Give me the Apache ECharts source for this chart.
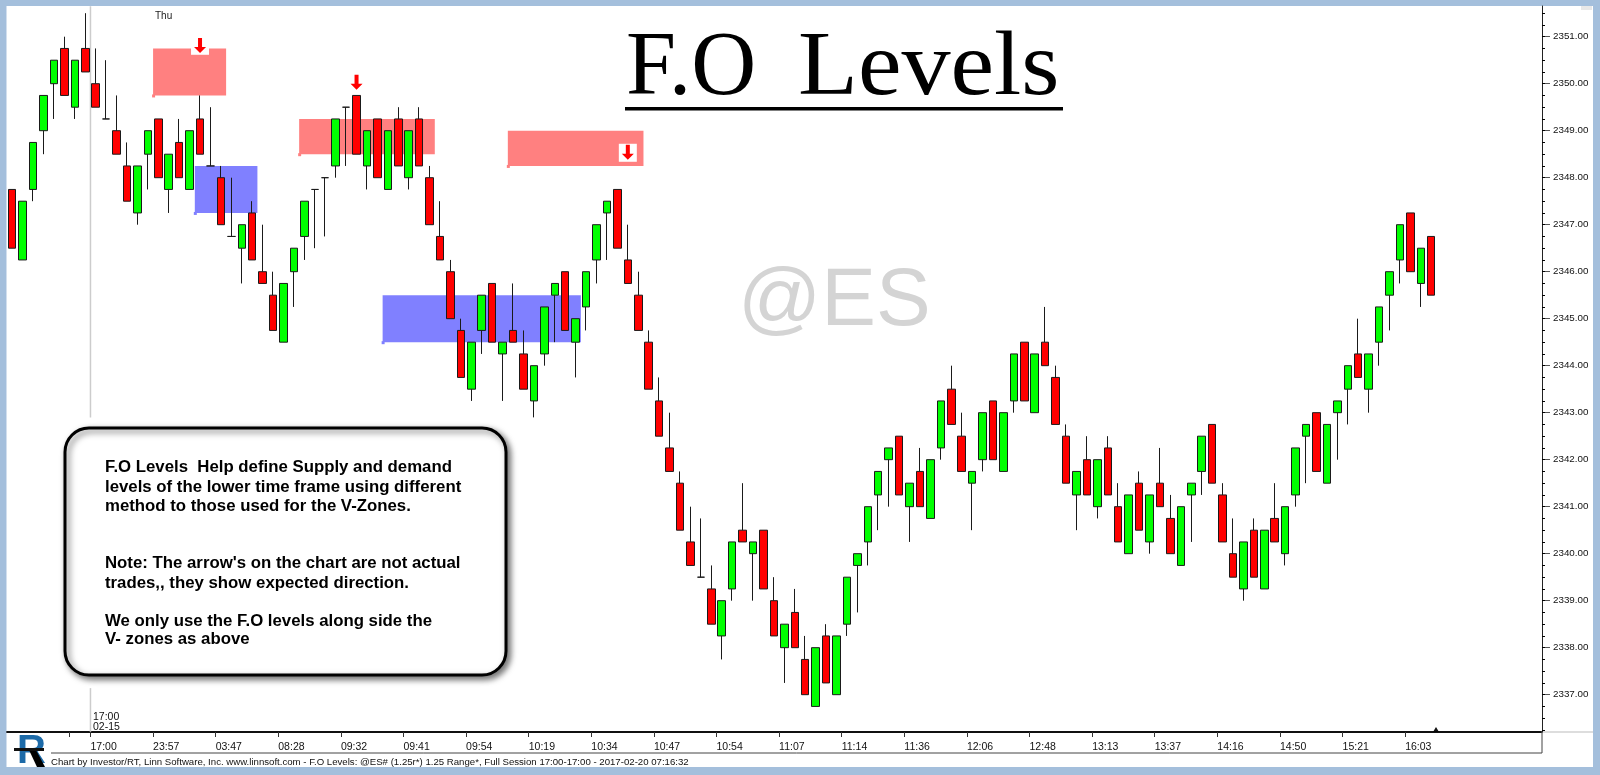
<!DOCTYPE html>
<html>
<head>
<meta charset="utf-8">
<title>F.O Levels</title>
<script src="https://cdn.jsdelivr.net/npm/echarts@6/dist/echarts.min.js"></script>
<style>
  html, body { margin: 0; padding: 0; background: #a4bfdc; }
  #chart { width: 1600px; height: 775px; }
</style>
</head>
<body>
<div id="chart"></div>
<script>
// 1.25 range bars (one row = 10 bars)
const opens = [
  2347.75,2346.25,2347.75,2349,2350,2350.75,2349.5,2350.75,2350,2349.25,
  2349,2348.25,2347.25,2348.5,2349.25,2347.75,2348.75,2347.75,2349.25,2348.25,
  2348,2346.75,2346.5,2347.25,2346,2345.5,2344.5,2346,2346.75,2347.75,
  2348,2348.25,2349.5,2349.75,2348.25,2349.25,2347.75,2349.25,2348,2349.25,
  2348,2346.75,2346,2344.75,2343.5,2344.75,2345.75,2344.25,2344.75,2344.25,
  2343.25,2344.25,2345.5,2346,2344.5,2345.25,2346.25,2347.25,2347.75,2346.25,
  2345.5,2344.5,2343.25,2342.25,2341.5,2340.25,2339.5,2339.25,2338.25,2339.25,
  2340.5,2340,2340.5,2339,2338,2338.75,2337.75,2336.75,2338.25,2337,
  2338.5,2339.75,2340.25,2341.25,2342,2342.5,2341,2341.75,2340.75,2342.25,
  2343.5,2342.5,2341.5,2342,2343.25,2341.75,2343.25,2344.5,2343,2344.5,
  2343.75,2342.5,2341.25,2342,2341,2342.25,2341,2340,2341.5,2340.25,
  2341.5,2340.75,2339.75,2341.25,2341.75,2342.75,2341.25,2340,2339.25,2340.5,
  2339.25,2340.75,2340,2341.25,2342.5,2343,2341.5,2343,2343.5,2344.25,
  2343.5,2344.5,2345.5,2346.25,2347.25,2345.75,2346.75
];
const closes = [
  2346.5,2347.5,2348.75,2349.75,2350.5,2349.75,2350.5,2350.25,2349.5,2349.25,
  2348.5,2347.5,2348.25,2349,2348,2348.5,2348,2349,2348.5,2348.25,
  2347,2346.75,2347,2346.25,2345.75,2344.75,2345.75,2346.5,2347.5,2347.75,
  2348,2349.25,2349.5,2348.5,2349,2348,2349,2348.25,2349,2348.25,
  2347,2346.25,2345,2343.75,2344.5,2345.5,2344.5,2344.5,2344.5,2343.5,
  2344,2345.25,2345.75,2344.75,2345,2346,2347,2347.5,2346.5,2345.75,
  2344.75,2343.5,2342.5,2341.75,2340.5,2339.75,2339.5,2338.5,2339,2340.25,
  2340.25,2340.25,2339.25,2338.25,2338.5,2338,2337,2338,2337.25,2338.25,
  2339.5,2340,2341,2341.75,2342.25,2341.25,2341.5,2341,2342,2343.25,
  2342.75,2341.75,2341.75,2343,2342,2343,2344.25,2343.25,2344.25,2344,
  2342.75,2341.5,2341.75,2341.25,2342,2341.25,2340.25,2341.25,2340.5,2341.25,
  2341,2340,2341,2341.5,2342.5,2341.5,2340.25,2339.5,2340.25,2339.5,
  2340.5,2340.25,2341,2342.25,2342.75,2341.75,2342.75,2343.25,2344,2343.75,
  2344.25,2345.25,2346,2347,2346,2346.5,2345.5
];
const lows = [
  2346.5,2346.25,2347.5,2348.5,2349.25,2349.75,2349.25,2350.25,2349.5,2349.25,
  2348.5,2347.5,2347,2347.75,2348,2347.25,2348,2347.75,2348.5,2348.25,
  2347,2346.75,2345.75,2346.25,2345.75,2344.75,2344.5,2345.25,2346.25,2346.5,
  2346.75,2348,2348.25,2348.5,2347.75,2348,2347.75,2348.25,2347.75,2348.25,
  2347,2346.25,2345,2343.75,2343.25,2344.25,2344.5,2343.25,2344.5,2343.5,
  2342.9,2344,2344.5,2344.75,2343.75,2344.75,2345.75,2346.25,2346.5,2345.75,
  2344.75,2343.5,2342.5,2341.75,2340.5,2339.75,2339.5,2338.5,2337.75,2339,
  2340.25,2339,2339.25,2338.25,2337.25,2338,2337,2336.75,2337.25,2337,
  2338.25,2338.75,2339.75,2340.5,2341,2341.25,2340.25,2341,2340.75,2342,
  2342.75,2341.75,2340.5,2341.75,2342,2341.75,2343,2343.25,2343,2344,
  2342.75,2341.5,2340.5,2341.25,2340.75,2341.25,2340.25,2340,2340.5,2340,
  2341,2340,2339.75,2340.25,2341.25,2341.5,2340.25,2339.5,2339,2339.5,
  2339.25,2340.25,2339.75,2341,2341.5,2341.75,2341.5,2342,2342.75,2343.75,
  2343,2344,2344.75,2345.75,2346,2345.25,2345.5
];
const highs = [
  2347.75,2347.5,2348.75,2349.75,2350.5,2351,2350.5,2351.5,2350.75,2350.5,
  2349.75,2348.75,2348.25,2349,2349.25,2348.5,2349.25,2349,2349.75,2349.5,
  2348.25,2348,2347,2347.5,2347,2346,2345.75,2346.5,2347.5,2347.75,
  2348,2349.25,2349.5,2349.75,2349,2349.25,2349,2349.5,2349,2349.5,
  2348.25,2347.5,2346.25,2345,2344.5,2345.5,2345.75,2344.5,2345.75,2344.75,
  2344,2345.25,2345.75,2346,2345,2346,2347,2347.5,2347.75,2347,
  2346,2344.75,2343.75,2343,2341.75,2341,2340.75,2339.75,2339,2340.25,
  2341.5,2340.25,2340.5,2339.5,2338.5,2339.25,2338.25,2338,2338.5,2338.25,
  2339.5,2340,2341,2341.75,2342.25,2342.5,2341.5,2342.25,2342,2343.25,
  2344,2343,2341.75,2343,2343.25,2343,2344.25,2344.5,2344.25,2345.25,
  2344,2342.75,2341.75,2342.5,2342,2342.5,2341.5,2341.25,2341.75,2341.25,
  2342.25,2341.25,2341,2341.5,2342.5,2342.75,2341.5,2340.75,2340.25,2340.75,
  2340.5,2341.5,2341,2342.25,2342.75,2343,2342.75,2343.25,2344,2345,
  2344.25,2345.25,2346,2347,2347.25,2346.5,2346.75
];

// time axis: one label every 6 bars, at the boundary before the bar
const timeLabels = ["17:00","23:57","03:47","08:28","09:32","09:41","09:54","10:19","10:34","10:47","10:54",
                    "11:07","11:14","11:36","12:06","12:48","13:13","13:37","14:16","14:50","15:21","16:03"];
const timeTicks = [8.5,14.5,20.5,26.5,32.5,38.5,44.5,50.5,56.5,62.5,68.5,
                   74.5,80.5,86.5,92.5,98.5,104.5,110.5,116.5,122.5,128.5,134.5];
const extraTicks = [6.5];
const priceLabels = [2337,2338,2339,2340,2341,2342,2343,2344,2345,2346,2347,2348,2349,2350,2351];

// F.O levels: [first bar edge, last bar edge, top price, bottom price]
const supplyZones = [[14.5,21.5,2350.75,2349.75],[28.5,41.5,2349.25,2348.5],[48.5,61.5,2349,2348.25]];
const demandZones = [[18.5,24.5,2348.25,2347.25],[36.5,55.5,2345.5,2344.5]];
// expected direction arrows: [bar, price]
const arrowPoints = [[19,2350.81],[34,2350.03],[60,2348.54]];
const arrowPatches = [[19,2350.70,18,8],[60,2348.53,18,18]];
// session break line: [bar edge, top price, bottom price]
const sessionLines = [[8.5,2351.65,2342.9],[8.5,2337.14,2336.21]];

const noteLines = [
  ["F.O Levels  Help define Supply and demand",467],
  ["levels of the lower time frame using different",487],
  ["method to those used for the V-Zones.",506],
  ["Note: The arrow's on the chart are not actual",563],
  ["trades,, they show expected direction.",583],
  ["We only use the F.O levels along side the",621],
  ["V- zones as above",639]
];
const footerText = "Chart by Investor/RT, Linn Software, Inc. www.linnsoft.com - F.O Levels: @ES# (1.25r*) 1.25 Range*, Full Session 17:00-17:00 - 2017-02-20 07:16:32";

const BAND = 10.434;
const BAND_COUNT = 147;
const PRICE_MIN = 2336.206;
const PRICE_MAX = 2351.653;
const AXIS_FONT = "Liberation Sans";

const candleData = opens.map((o, i) => [o, closes[i], lows[i], highs[i]]);
const barIds = [];
for (let i = 1; i <= BAND_COUNT; i++) barIds.push(String(i));
const quarterTicks = [];
for (let p = 2336.25; p <= PRICE_MAX; p += 0.25) quarterTicks.push(p);

function zoneSeries(name, zones, color) {
  return {
    name: name,
    type: "custom",
    xAxisIndex: 1,
    z: 1,
    silent: true,
    data: zones,
    encode: { x: [0, 1], y: [2, 3] },
    renderItem: function (params, api) {
      const a = api.coord([api.value(0), api.value(2)]);
      const b = api.coord([api.value(1), api.value(3)]);
      return {
        type: "group",
        children: [
          { type: "rect", shape: { x: a[0], y: a[1], width: b[0] - a[0], height: b[1] - a[1] }, style: { fill: color } },
          { type: "rect", shape: { x: a[0] - 1, y: b[1] - 1, width: 3, height: 3 }, style: { fill: color } }
        ]
      };
    }
  };
}

const chrome = [
  { type: "rect", z: -10, shape: { x: 6.5, y: 6, width: 1586.5, height: 761 }, style: { fill: "#ffffff" } },
  // rest of the axis line and footer frame
  { type: "line", shape: { x1: 6.5, y1: 732, x2: 1542, y2: 732 }, style: { stroke: "#000000", lineWidth: 1.5 } },
  { type: "line", shape: { x1: 1542, y1: 732, x2: 1593, y2: 732 }, style: { stroke: "#bbbbbb", lineWidth: 1 } },
  { type: "line", shape: { x1: 51, y1: 753, x2: 1542, y2: 753 }, style: { stroke: "#444444", lineWidth: 1 } },
  { type: "line", shape: { x1: 1542, y1: 732, x2: 1542, y2: 753 }, style: { stroke: "#444444", lineWidth: 1 } },
  { type: "polygon", shape: { points: [[1433, 732], [1439, 732], [1436, 727]] }, style: { fill: "#111111" } },
  { type: "rect", shape: { x: 1581, y: 6, width: 11, height: 4 }, style: { fill: "#e8e8e8" } },
  // title, "Levels" is wider in the picture than the font gives
  { type: "text", x: 626, y: 25, style: { text: "F.O", font: "90px 'Liberation Serif'", fill: "#000000" } },
  { type: "text", x: 798, y: 25, scaleX: 1.09, style: { text: "Levels", font: "90px 'Liberation Serif'", fill: "#000000" } },
  { type: "rect", shape: { x: 625, y: 107, width: 438, height: 3.5 }, style: { fill: "#000000" } },
  // watermark
  { type: "text", z: 0, x: 738, y: 261, style: { text: "@ES", font: "82px 'Liberation Sans'", fill: "#d4d4d4" } },
  { type: "text", x: 155, y: 16, style: { text: "Thu", font: "10px " + AXIS_FONT, fill: "#222222", verticalAlign: "middle" } },
  { type: "text", x: 93, y: 717, style: { text: "17:00", font: "10.5px " + AXIS_FONT, fill: "#111111", verticalAlign: "middle" } },
  { type: "text", x: 93, y: 727, style: { text: "02-15", font: "10.5px " + AXIS_FONT, fill: "#111111", verticalAlign: "middle" } },
  // note box
  { type: "rect", z: 10, shape: { x: 65, y: 428, width: 441, height: 247, r: 24 },
    style: { fill: "#ffffff", stroke: "#000000", lineWidth: 3, shadowBlur: 6, shadowColor: "rgba(0,0,0,0.55)", shadowOffsetX: 3, shadowOffsetY: 3 } },
  // logo
  { type: "text", z: 5, x: 17, y: 732, style: { text: "R", font: "bold 40px 'Liberation Sans'", fill: "#1c6aa8" } },
  { type: "polygon", z: 6, shape: { points: [[29, 750], [36, 750], [45, 767], [37, 767]] }, style: { fill: "#000000" } },
  { type: "rect", z: 6, shape: { x: 14, y: 748, width: 30, height: 3 }, style: { fill: "#111111" } },
  // footer
  { type: "text", x: 51, y: 762, style: { text: footerText, font: "9.65px " + AXIS_FONT, fill: "#111111", verticalAlign: "middle" } }
];
noteLines.forEach(function (line) {
  chrome.push({ type: "text", z: 11, x: 105, y: line[1], style: { text: line[0], font: "bold 16.8px 'Liberation Sans'", fill: "#000000", verticalAlign: "middle" } });
});

const option = {
  backgroundColor: "#a4bfdc",
  animation: false,
  graphic: { elements: chrome },
  grid: { left: 7, top: 6, width: BAND * BAND_COUNT, height: 726, containLabel: false },
  xAxis: [
    { type: "category", data: barIds, show: false },
    {
      type: "value",
      min: 0.5,
      max: BAND_COUNT + 0.5,
      position: "bottom",
      splitLine: { show: false },
      axisLine: { show: true, lineStyle: { color: "#000000", width: 1.5 } },
      axisTick: { show: true, length: 5, customValues: extraTicks.concat(timeTicks), lineStyle: { color: "#333333" } },
      axisLabel: {
        customValues: timeTicks,
        formatter: function (v) { return timeLabels[timeTicks.indexOf(v)]; },
        align: "left",
        margin: 10,
        fontFamily: AXIS_FONT,
        fontSize: 10.5,
        color: "#111111"
      }
    }
  ],
  yAxis: [
    {
      type: "value",
      position: "right",
      offset: 1.2,
      min: PRICE_MIN,
      max: PRICE_MAX,
      splitLine: { show: false },
      axisLine: { show: true, lineStyle: { color: "#222222" } },
      axisTick: { show: true, length: 8, customValues: priceLabels, lineStyle: { color: "#555555" } },
      axisLabel: {
        customValues: priceLabels,
        formatter: function (v) { return v.toFixed(2); },
        margin: 11,
        padding: [0, 0, 8, 0],
        fontFamily: AXIS_FONT,
        fontSize: 9.8,
        color: "#111111"
      }
    },
    {
      type: "value",
      position: "right",
      offset: 1.2,
      min: PRICE_MIN,
      max: PRICE_MAX,
      splitLine: { show: false },
      axisLine: { show: false },
      axisTick: { show: true, length: 3, customValues: quarterTicks, lineStyle: { color: "#000000" } },
      axisLabel: { show: false }
    }
  ],
  series: [
    zoneSeries("Supply", supplyZones, "#ff8080"),
    zoneSeries("Demand", demandZones, "#8080ff"),
    {
      name: "Session",
      type: "custom",
      xAxisIndex: 1,
      z: 1,
      silent: true,
      data: sessionLines,
      encode: { x: 0, y: [1, 2] },
      renderItem: function (params, api) {
        const a = api.coord([api.value(0), api.value(1)]);
        const b = api.coord([api.value(0), api.value(2)]);
        return { type: "line", shape: { x1: a[0], y1: a[1], x2: b[0], y2: b[1] }, style: { stroke: "#cccccc", lineWidth: 1.5 } };
      }
    },
    {
      name: "@ES#",
      type: "candlestick",
      xAxisIndex: 0,
      z: 3,
      barWidth: 8,
      data: candleData,
      itemStyle: {
        color: "#00ff00",
        color0: "#ff0000",
        borderColor: "#1a1a1a",
        borderColor0: "#1a1a1a",
        borderColorDoji: "#1a1a1a",
        borderWidth: 1
      }
    },
    {
      name: "Patch",
      type: "scatter",
      xAxisIndex: 1,
      z: 4,
      silent: true,
      symbol: "rect",
      symbolSize: function (d) { return [d[2], d[3]]; },
      itemStyle: { color: "#ffffff", opacity: 1 },
      data: arrowPatches
    },
    {
      name: "Direction",
      type: "scatter",
      xAxisIndex: 1,
      z: 5,
      silent: true,
      symbol: "path://M4 0 H8 V9 H12 L6 15 L0 9 H4 Z",
      symbolKeepAspect: false,
      symbolSize: [12, 15],
      itemStyle: { color: "#ff0000", opacity: 1 },
      data: arrowPoints
    }
  ]
};

const chart = echarts.init(document.getElementById("chart"));
chart.setOption(option);
</script>
</body>
</html>
